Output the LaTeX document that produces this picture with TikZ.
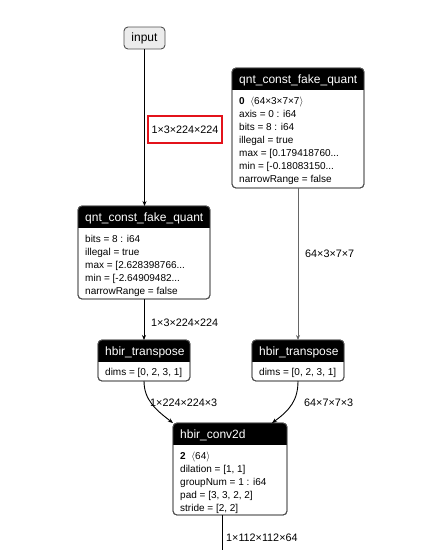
\documentclass[tikz,border=0pt]{standalone}
\usepackage{fontspec}
\setmainfont{Liberation Sans}
\usetikzlibrary{arrows.meta}
\definecolor{bordergray}{HTML}{505050}
\definecolor{inputfill}{HTML}{ECECEC}
\definecolor{edgegray}{HTML}{666666}
\definecolor{labelred}{HTML}{E3131B}
\tikzset{
  boxshape/.style={draw=bordergray, fill=white, rounded corners=4pt, line width=0.9pt, outer sep=0pt, inner sep=0pt},
  boxline/.style={draw=bordergray, rounded corners=4pt, line width=0.9pt},
  hdrtext/.style={text=white, font=\fontsize{12}{14}\selectfont, inner sep=0pt, anchor=base west},
  bodytext/.style={text=black, font=\fontsize{10}{12}\selectfont, inner sep=0pt, anchor=base west},
  edgelabel/.style={text=black, font=\fontsize{10.8}{13}\selectfont, inner sep=0pt, anchor=base west},
  conn/.style={line width=0.9pt, -{Stealth[length=5pt,width=4pt]}},
}
\newcommand\mkbox[6]{%
  \node[boxshape, minimum width=#4pt, minimum height=#5pt, anchor=north west] (#1) at (#2,#3) {};
  \begin{scope}
    \clip[rounded corners=4pt] (#1.north west) rectangle (#1.south east);
    \fill[black] (#1.north west) rectangle ++(#4,22);
  \end{scope}
  \draw[boxline] (#1.north west) rectangle (#1.south east);
  \node[hdrtext] (#1h) at ([xshift=7pt,yshift=-15.5pt]#1.north west) {#6};
}
\begin{document}
\begin{tikzpicture}[x=1pt,y=-1pt]
\useasboundingbox (0,0) rectangle (430,550);

% input
\node[draw=bordergray, fill=inputfill, rounded corners=4pt, line width=0.9pt,
      minimum width=41pt, minimum height=22pt, inner sep=0pt, outer sep=0pt,
      font=\fontsize{12}{14}\selectfont] (in) at (144.5,38) {input};

% left quant
\mkbox{q1}{78}{206}{132}{93}{qnt\_const\_fake\_quant}
\node[bodytext] (q1a) at (85,242) {bits = 8 : i64};
\node[bodytext] (q1b) at (85,255) {illegal = true};
\node[bodytext] (q1c) at (85,268) {max = [2.628398766...};
\node[bodytext] (q1d) at (85,281) {min = [-2.64909482...};
\node[bodytext] (q1e) at (85,294) {narrowRange = false};

% right quant
\mkbox{q2}{232}{68}{132}{120}{qnt\_const\_fake\_quant}
\node[bodytext] (q2a) at (239,104) {\textbf{0}\ \ $\langle$64×3×7×7$\rangle$};
\node[bodytext] (q2b) at (239,117) {axis = 0 : i64};
\node[bodytext] (q2c) at (239,130) {bits = 8 : i64};
\node[bodytext] (q2d) at (239,143) {illegal = true};
\node[bodytext] (q2e) at (239,156) {max = [0.179418760...};
\node[bodytext] (q2f) at (239,169) {min = [-0.18083150...};
\node[bodytext] (q2g) at (239,182) {narrowRange = false};

% transposes
\mkbox{t1}{98}{340}{92}{41}{hbir\_transpose}
\node[bodytext] (t1a) at (105,375.5) {dims = [0, 2, 3, 1]};
\mkbox{t2}{252}{340}{92}{41}{hbir\_transpose}
\node[bodytext] (t2a) at (259,375.5) {dims = [0, 2, 3, 1]};

% conv
\mkbox{c}{173}{423}{114}{92}{hbir\_conv2d}
\node[bodytext] (ca) at (180,459) {\textbf{2}\ \ $\langle$64$\rangle$};
\node[bodytext] (cb) at (180,472) {dilation = [1, 1]};
\node[bodytext] (cc) at (180,485) {groupNum = 1 : i64};
\node[bodytext] (cd) at (180,498) {pad = [3, 3, 2, 2]};
\node[bodytext] (ce) at (180,511) {stride = [2, 2]};

% connectors
\draw[conn] (in.south) -- (in.south |- q1.north);
\draw[conn] (q1.south) -- (t1.north);
\draw[conn, draw=edgegray] (q2.south) -- (t2.north);
\draw[conn] (t1.south) .. controls (144,400) and (156,410) .. (c.north west);
\draw[conn] (t2.south) .. controls (298,400) and (290,410) .. ([xshift=-15pt]c.north east);
\coordinate (cout) at (222,550);
\draw[line width=0.9pt] (c.south -| cout) -- (cout);

% edge labels
\node[draw=labelred, line width=1.4pt, minimum width=74pt, minimum height=27pt,
      inner sep=0pt, font=\fontsize{10.8}{13}\selectfont] (redlbl) at (185,129.5) {1×3×224×224};
\node[edgelabel] (l2) at (151,326) {1×3×224×224};
\node[edgelabel] (l3) at (305,257) {64×3×7×7};
\node[edgelabel] (l4) at (150,406) {1×224×224×3};
\node[edgelabel] (l5) at (304,406) {64×7×7×3};
\node[edgelabel] (l6) at (226,541) {1×112×112×64};
\end{tikzpicture}
\end{document}
